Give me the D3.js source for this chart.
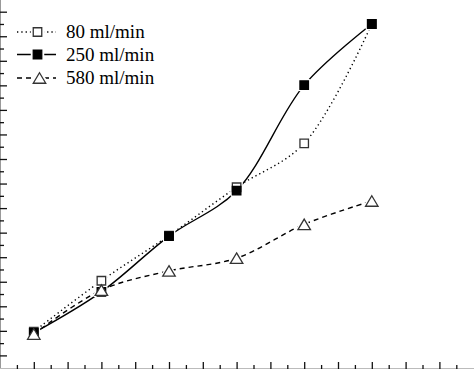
<!DOCTYPE html>
<html><head><meta charset="utf-8">
<script src="https://cdn.jsdelivr.net/npm/d3@7"></script>
<style>html,body{margin:0;padding:0;background:#fff;}svg{display:block;}</style>
</head><body>
<script>
// Data
const xPositions = [1, 3, 5, 7, 9, 11];
const seriesNames = ["80 ml/min", "250 ml/min", "580 ml/min"];
const values80 = [0.97, 3.04, 4.88, 6.85, 8.64, 13.50];
const values250 = [0.92, 2.59, 4.86, 6.71, 11.01, 13.50];
const values580 = [0.87, 2.66, 3.44, 3.96, 5.34, 6.29];
const yMajorTicks = d3.range(0, 15, 1);
const yMinorTicks = d3.range(-0.5, 15, 1);
const xMajorTicks = d3.range(1, 14, 1);
const xMinorTicks = d3.range(0.5, 14, 1);

const W = 474, H = 369;
const svg = d3.select("body").append("svg").attr("width", W).attr("height", H);

const x = d3.scaleLinear().domain([0, 1]).range([0, 33.8]);
const y = d3.scaleLinear().domain([0, 14]).range([355.4, 11.7]);

const axisColor = "#111";
// Y axis (ticks pointing inward, right)
svg.append("line").attr("x1", 0.5).attr("x2", 0.5).attr("y1", 0).attr("y2", H).attr("stroke", "#999").attr("stroke-width", 1);
const yAxisMaj = d3.axisRight(y).tickValues(yMajorTicks).tickSize(7).tickFormat("");
const yAxisMin = d3.axisRight(y).tickValues(yMinorTicks.filter(v => y(v) > 0 && y(v) < H - 2)).tickSize(4).tickFormat("");
[yAxisMaj, yAxisMin].forEach(a => {
  const g = svg.append("g").attr("transform", "translate(0,0)").call(a);
  g.select(".domain").remove();
  g.selectAll("line").attr("stroke", axisColor).attr("stroke-width", 1.3);
});
// X axis (ticks pointing up)
svg.append("line").attr("x1", 0).attr("x2", W).attr("y1", H - 0.5).attr("y2", H - 0.5).attr("stroke", "#bbb").attr("stroke-width", 1);
const xAxisMaj = d3.axisTop(x).tickValues(xMajorTicks).tickSize(7).tickFormat("");
const xAxisMin = d3.axisTop(x).tickValues(xMinorTicks).tickSize(4).tickFormat("");
[xAxisMaj, xAxisMin].forEach(a => {
  const g = svg.append("g").attr("transform", `translate(0,${H})`).call(a);
  g.select(".domain").remove();
  g.selectAll("line").attr("stroke", axisColor).attr("stroke-width", 1.3);
});

const series = [
  {name: seriesNames[0], vals: values80, dash: "1.3,3", marker: "openSquare"},
  {name: seriesNames[1], vals: values250, dash: null, marker: "filledSquare"},
  {name: seriesNames[2], vals: values580, dash: "5,4", marker: "triangle"}
];

const line = d3.line().x(d => x(d[0])).y(d => y(d[1])).curve(d3.curveCatmullRom.alpha(0.5));

series.forEach(s => {
  const pts = xPositions.map((xv, i) => [xv, s.vals[i]]);
  const p = svg.append("path").datum(pts).attr("d", line)
    .attr("fill", "none").attr("stroke", "#000").attr("stroke-width", 1.4);
  if (s.dash) p.attr("stroke-dasharray", s.dash);
});

function markerPath(type, cx, cy) {
  if (type === "triangle") {
    const w = 12.5, h = 10.5;
    return `M${cx},${cy - h / 2}L${cx + w / 2},${cy + h / 2}L${cx - w / 2},${cy + h / 2}Z`;
  }
  const s = 8.5;
  return `M${cx - s / 2},${cy - s / 2}h${s}v${s}h${-s}Z`;
}
function drawMarker(g, type, cx, cy, halo) {
  const fill = type === "filledSquare" ? "#000" : "#fff";
  if (halo) {
    g.append("path").attr("d", markerPath(type, cx, cy)).attr("fill", "#fff")
      .attr("stroke", "#fff").attr("stroke-width", 5).attr("stroke-linejoin", "round");
  }
  g.append("path").attr("d", markerPath(type, cx, cy)).attr("fill", fill)
    .attr("stroke", type === "filledSquare" ? "#000" : "#333").attr("stroke-width", 1.3);
}

const halos = svg.append("g");
series.forEach(s => {
  xPositions.forEach((xv, i) => {
    halos.append("path").attr("d", markerPath(s.marker, x(xv), y(s.vals[i])))
      .attr("fill", "#fff").attr("stroke", "#fff").attr("stroke-width", 4).attr("stroke-linejoin", "round");
  });
});
const marks = svg.append("g");
series.forEach(s => {
  xPositions.forEach((xv, i) => drawMarker(marks, s.marker, x(xv), y(s.vals[i]), false));
});

// Legend
const legend = svg.append("g");
const rowY = [32, 54.5, 78];
series.forEach((s, i) => {
  const ly = rowY[i];
  const g = legend.append("g");
  const l = g.append("line").attr("x1", 17).attr("x2", 56).attr("y1", ly).attr("y2", ly)
    .attr("stroke", "#000").attr("stroke-width", 1.4);
  if (s.dash) l.attr("stroke-dasharray", s.dash);
  const mx = s.marker === "triangle" ? 39.5 : 37.5;
  g.append("path").attr("d", markerPath(s.marker, mx, ly)).attr("fill", "#fff")
    .attr("stroke", "#fff").attr("stroke-width", 5);
  drawMarker(g, s.marker, mx, ly, false);
  g.append("text").attr("x", 66).attr("y", ly + 6)
    .attr("font-family", "'Liberation Serif', 'Times New Roman', serif")
    .attr("font-size", 19).attr("fill", "#000").text(s.name);
});
</script>
</body></html>
